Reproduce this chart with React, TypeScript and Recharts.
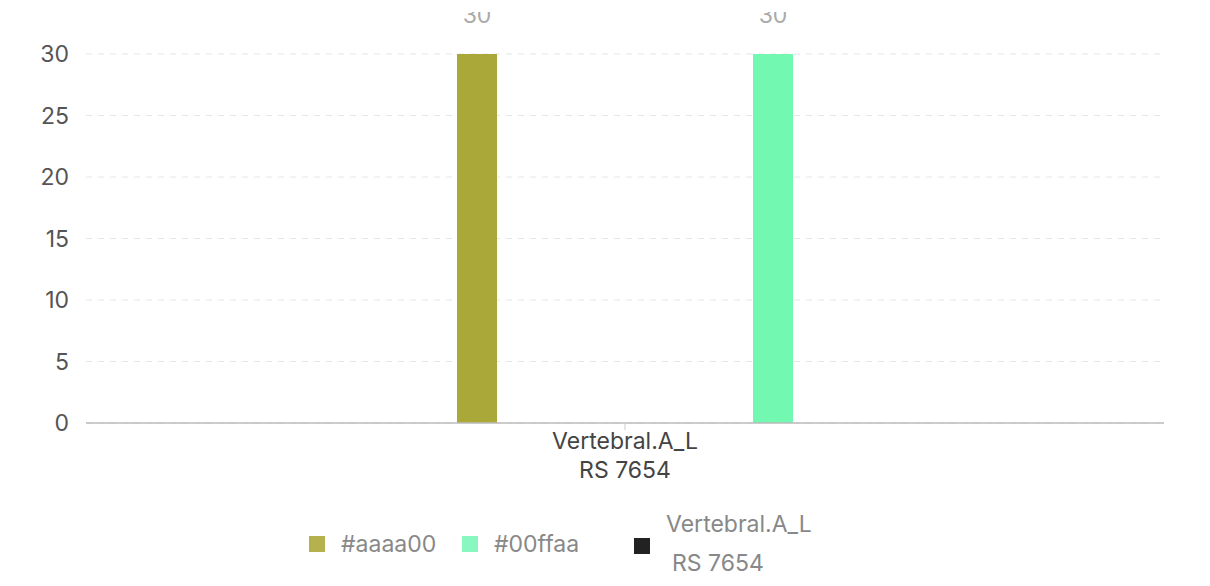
import React from 'react';
import { BarChart, Bar, XAxis, YAxis, CartesianGrid, Legend, LabelList } from 'recharts';

const categories = ['Vertebral.A_L\nRS 7654'];
const seriesNames = ['#aaaa00', '#00ffaa', 'Vertebral.A_L\nRS 7654'];
const seriesA = [30];
const seriesB = [30];
const seriesC = [0];
const yTicks = [0, 5, 10, 15, 20, 25, 30];

const barColors = ['#aaa838', '#72f8b0', '#222222'];
const legendColors = ['#b5b14c', '#88f8c0', '#222222'];

const FONT = 'Inter, "Noto Sans", sans-serif';

const data = categories.map((c, i) => ({
  name: c,
  s0: seriesA[i],
  s1: seriesB[i],
  s2: seriesC[i],
}));

const XTick = (props: any) => {
  const { x, y, payload } = props;
  const lines = String(payload.value).split('\n');
  return (
    <g transform={`translate(${x},${y})`}>
      <text textAnchor="middle" fill="#444" fontSize={23} fontFamily={FONT}>
        {lines.map((l, i) => (
          <tspan key={i} x={0} dy={i === 0 ? 17 : 29}>{l}</tspan>
        ))}
      </text>
    </g>
  );
};

const itemWidths = [153, 172, 200];

const LegendContent = () => (
  <div style={{ position: 'relative', height: 90, width: 1210, fontFamily: FONT }}>
    <div style={{ position: 'absolute', left: 309, top: 6, height: 90, display: 'flex', alignItems: 'center' }}>
      {seriesNames.map((n, i) => {
        const lines = n.split('\n');
        return (
          <div key={i} style={{ display: 'flex', alignItems: 'center', width: itemWidths[i] }}>
            <div style={{ width: 16, height: 16, background: legendColors[i], marginRight: 16, flexShrink: 0, marginTop: i === 2 ? 4 : 0 }} />
            <div style={{ color: '#888', fontSize: 23, lineHeight: lines.length > 1 ? '39px' : '23px' }}>
              {lines.map((l, j) => (
                <div key={j} style={{ paddingLeft: j === 1 ? 6 : 0, whiteSpace: 'nowrap' }}>{l}</div>
              ))}
            </div>
          </div>
        );
      })}
    </div>
  </div>
);

export default function App() {
  return (
    <div style={{ margin: '4px 0 0 -8px', width: 1210, height: 574, overflow: 'hidden' }}>
      <BarChart
        width={1210}
        height={574}
        data={data}
        margin={{ top: 42, right: 46, bottom: 3, left: 0 }}
        barGap={108}
        barSize={40}
      >
        <CartesianGrid vertical={false} stroke="#e6e6e6" strokeDasharray="6 6" />
        <XAxis
          dataKey="name"
          height={70}
          tick={<XTick />}
          axisLine={{ stroke: '#bbbbbb', strokeWidth: 1.5 }}
          tickLine={{ stroke: '#cccccc' }}
          tickSize={7}
        />
        <YAxis
          width={86}
          domain={[0, 30]}
          ticks={yTicks}
          axisLine={false}
          tickLine={false}
          tickSize={0}
          tickMargin={17}
          tick={{ fill: '#555', fontSize: 23, fontFamily: FONT }}
        />
        <Legend verticalAlign="bottom" wrapperStyle={{ left: 0, width: 1210 }} content={<LegendContent />} />
        <Bar dataKey="s0" name={seriesNames[0]} fill={barColors[0]} isAnimationActive={false}>
          <LabelList dataKey="s0" position="top" offset={31} fill="#aaa" fontSize={23} fontFamily={FONT} />
        </Bar>
        <Bar dataKey="s2" name={seriesNames[2]} fill={barColors[2]} isAnimationActive={false} />
        <Bar dataKey="s1" name={seriesNames[1]} fill={barColors[1]} isAnimationActive={false}>
          <LabelList dataKey="s1" position="top" offset={31} fill="#aaa" fontSize={23} fontFamily={FONT} />
        </Bar>
      </BarChart>
    </div>
  );
}
